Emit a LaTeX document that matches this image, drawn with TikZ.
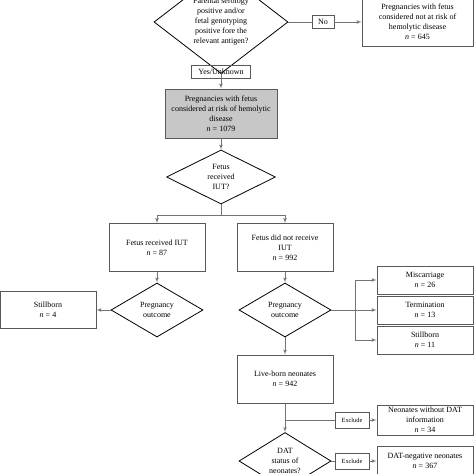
\documentclass[tikz,border=0pt]{standalone}
\usepackage{fontspec}
\setmainfont{Liberation Serif}
\usepackage{tikz}
\usetikzlibrary{positioning}
\usetikzlibrary{calc}
\usetikzlibrary{arrows}
\usetikzlibrary{shapes.geometric}

\begin{document}
\begin{tikzpicture}[
    x=1pt, y=-1pt,              % pixel-like grid, y going down
    node distance=40pt and 40pt, % Global setup of box spacing
    ]
% -------------------------------------------------
\tikzset{
  base/.style={draw, on grid, align=center, inner sep=1pt,
               font=\fontsize{8}{10}\selectfont},
  proc/.style={base, rectangle, draw=black!65, line width=0.8pt,
               minimum width=96pt, minimum height=48pt},
  slim/.style={proc, minimum height=28pt},
  risky/.style={proc, fill=black!22, minimum width=112pt, minimum height=49pt},
  decide/.style={base, diamond, draw=black, line width=0.8pt, inner sep=0pt,
                 minimum width=92pt, minimum height=54pt},
  tag/.style={base, rectangle, draw=black!65, line width=0.7pt,
              minimum height=13pt},
  tiny/.style={tag, font=\fontsize{6.3}{7}\selectfont,
               minimum width=34pt, minimum height=16pt},
  conn/.style={draw, black!55, line width=0.7pt},
  line/.style={conn, -latex'}
}
\useasboundingbox (0,0) rectangle (474,474);
% -------------------------------------------------
% Placing the nodes

\node [decide, minimum width=134pt, minimum height=76pt] (par) at (221,22)
  {Parental serology\\positive and/or\\fetal genotyping\\positive fore the\\relevant antigen?};
\node [tag, minimum width=22pt, right=102pt of par] (no) {No};
\node [proc, minimum width=111pt, right=94.5pt of no] (safe)
  {Pregnancies with fetus\\considered not at risk of\\hemolytic disease\\\textit{n} = 645};

\node [tag, minimum width=59pt, below=49.5pt of par] (yes) {Yes/Unknown};
\node [risky, below=42pt of yes] (risk)
  {Pregnancies with fetus\\considered at risk of hemolytic\\disease\\\textit{n} = 1079};
\node [decide, minimum width=109pt, below=63.5pt of risk] (iut) {Fetus\\received\\IUT?};

\node [proc, below left=70.5pt and 64pt of iut] (rcv) {Fetus received IUT\\\textit{n} = 87};
\node [proc, below right=70.5pt and 64pt of iut] (norcv)
  {Fetus did not receive\\IUT\\\textit{n} = 992};

\node [decide, below=62.5pt of rcv] (out1) {Pregnancy\\outcome};
\node [proc, minimum height=37pt, left=109pt of out1] (still1) {Stillborn\\\textit{n} = 4};

\node [decide, below=62.5pt of norcv] (out2) {Pregnancy\\outcome};
\node [slim, right=140pt of out2] (term) {Termination\\\textit{n} = 13};
\node [slim, above=30pt of term] (mis) {Miscarriage\\\textit{n} = 26};
\node [slim, below=30pt of term] (still2) {Stillborn\\\textit{n} = 11};

\node [proc, below=69pt of out2] (live) {Live-born neonates\\\textit{n} = 942};
\node [decide, minimum height=52pt, below=82pt of live] (dat) {DAT\\status of\\neonates?};
\node [tiny, right=67pt of dat] (excl2) {Exclude};
\node [slim, minimum height=30pt, right=73pt of excl2] (neg)
  {DAT-negative neonates\\\textit{n} = 367};
\node [tiny, above=41pt of excl2] (excl1) {Exclude};
\node [slim, minimum height=30pt, right=73pt of excl1] (nodat)
  {Neonates without DAT\\information\\\textit{n} = 34};

\coordinate [below=11pt of iut.south] (fork);
\coordinate [right=24pt of out2.east] (fan);

% Drawing the connectors
\path [conn] (par.east) -- (no);
\path [line] (no) -- (safe);
\path [conn] (par.south) -- (yes);
\path [line] (yes) -- (risk);
\path [line] (risk) -- (iut);
\path [conn] (iut.south) -- (fork);
\path [line] (fork) -| (rcv);
\path [line] (fork) -| (norcv);
\path [line] (rcv) -- (out1);
\path [line] (out1) -- (still1);
\path [line] (norcv) -- (out2);
\path [line] (out2) -- (term);
\path [line] (fan) |- (mis);
\path [line] (fan) |- (still2);
\path [line] (out2) -- (live);
\path [line] (live) -- (dat);
\path [conn] (live.south |- excl1) -- (excl1);
\path [line] (excl1) -- (nodat);
\path [conn] (dat.east) -- (excl2);
\path [line] (excl2) -- (neg);

\end{tikzpicture}
\end{document}
